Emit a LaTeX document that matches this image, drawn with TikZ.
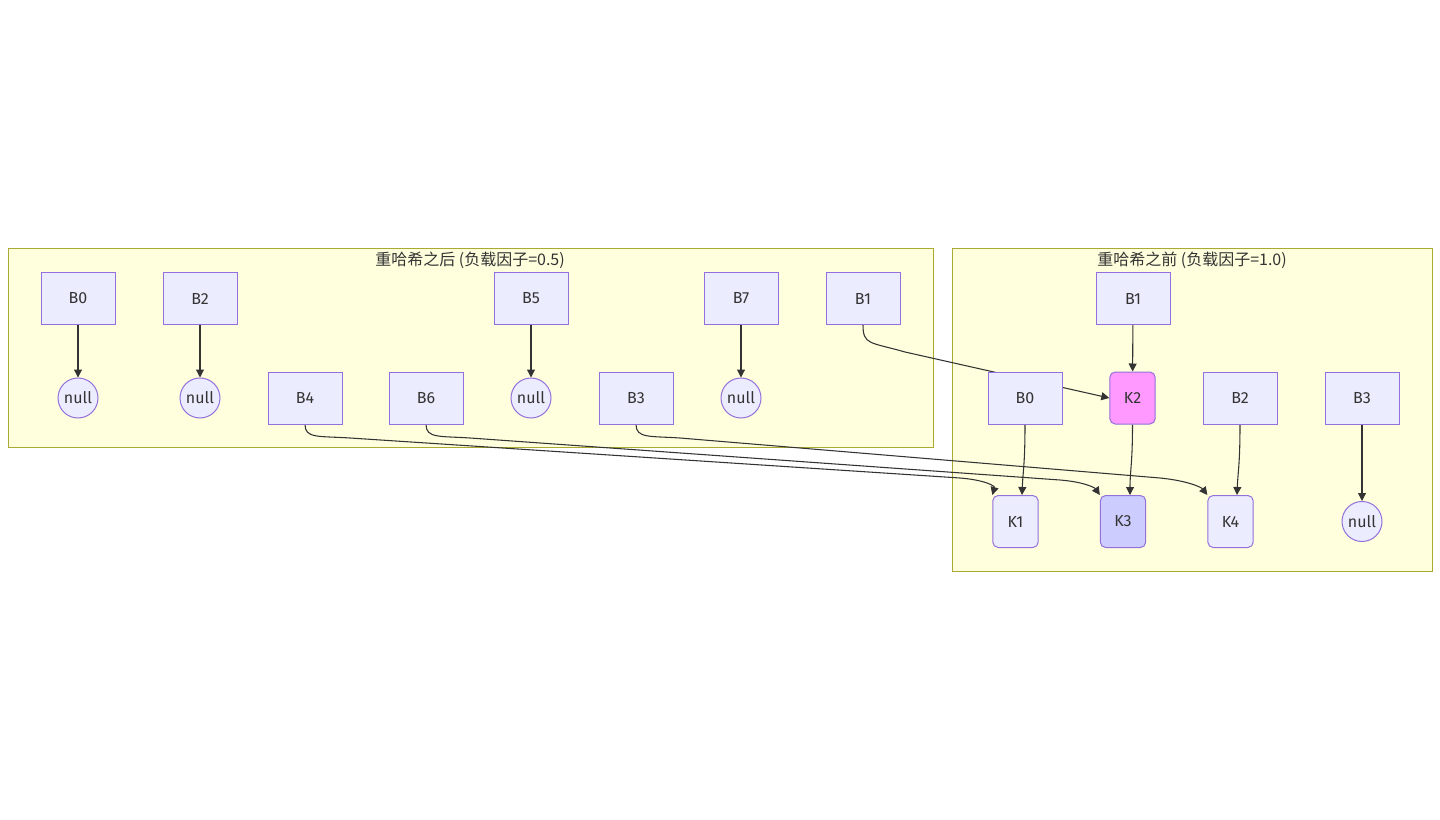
\documentclass[tikz,border=0pt]{standalone}
\usepackage{fontspec}
\setmainfont{Fira Sans}
\newfontfamily\cjk{Noto Sans CJK SC}
\usetikzlibrary{arrows.meta}
\definecolor{nodefill}{HTML}{ECECFF}
\definecolor{nodeline}{HTML}{9370DB}
\definecolor{clusterfill}{HTML}{FFFFDE}
\definecolor{clusterline}{HTML}{AAAA33}
\definecolor{edgecol}{HTML}{333333}
\definecolor{pinkfill}{HTML}{FF99FF}
\definecolor{bluefill}{HTML}{CCCCFF}
\pgfdeclarelayer{background}
\pgfdeclarelayer{edgelayer}
\pgfsetlayers{background,edgelayer,main}
\tikzset{
  bucket/.style={draw=nodeline, fill=nodefill, line width=0.75pt, minimum width=55.5pt, minimum height=39pt, inner sep=0pt, font=\fontsize{12}{14}\selectfont, text=edgecol},
  keybox/.style={draw=nodeline, fill=nodefill, line width=0.75pt, rounded corners=4pt, minimum width=34pt, minimum height=39pt, inner sep=0pt, font=\fontsize{12}{14}\selectfont, text=edgecol},
  nullnode/.style={draw=nodeline, fill=nodefill, line width=0.75pt, circle, minimum size=30pt, inner sep=0pt, font=\fontsize{12}{14}\selectfont, text=edgecol},
  cluster/.style={draw=clusterline, fill=clusterfill, line width=0.75pt},
  ctitle/.style={font=\cjk\fontsize{12}{14}\selectfont, text=edgecol},
  edge/.style={draw=edgecol, line width=0.8pt, -{Triangle[length=6pt,width=6pt]}}
}
\begin{document}
\begin{tikzpicture}[x=0.75pt,y=-0.75pt]
\useasboundingbox (0,0) rectangle (1440,820);
\begin{pgfonlayer}{background}
\fill[white] (0,0) rectangle (1440,820);
\draw[cluster] (8,249) rectangle (933,447);
\draw[cluster] (952,249) rectangle (1432,571);
\end{pgfonlayer}
\node[ctitle] (tA) at (470,260) {重哈希之后 (负载因子=0.5)};
\node[ctitle] (tB) at (1192,260) {重哈希之前 (负载因子=1.0)};
% after rehash
\node[bucket] (aB0) at (78,298.5) {B0};
\node[bucket] (aB2) at (200,298.5) {B2};
\node[bucket] (aB5) at (531,298.5) {B5};
\node[bucket] (aB7) at (741,298.5) {B7};
\node[bucket] (aB1) at (863,298.5) {B1};
\node[nullnode] (an0) at (78,398) {null};
\node[nullnode] (an2) at (200,398) {null};
\node[bucket] (aB4) at (305,398) {B4};
\node[bucket] (aB6) at (426,398) {B6};
\node[nullnode] (an5) at (531,398) {null};
\node[bucket] (aB3) at (636,398) {B3};
\node[nullnode] (an7) at (741,398) {null};
% before rehash
\node[bucket] (bB1) at (1133,298.5) {B1};
\node[bucket] (bB0) at (1025,398) {B0};
\node[keybox, fill=pinkfill] (K2) at (1132.5,398) {K2};
\node[bucket] (bB2) at (1240,398) {B2};
\node[bucket] (bB3) at (1362,398) {B3};
\node[keybox] (K1) at (1015.5,521.5) {K1};
\node[keybox, fill=bluefill] (K3) at (1123,521.5) {K3};
\node[keybox] (K4) at (1230.5,521.5) {K4};
\node[nullnode] (bn3) at (1362,521.5) {null};
\begin{pgfonlayer}{edgelayer}
\draw[edge] (aB0) -- (an0);
\draw[edge] (aB2) -- (an2);
\draw[edge] (aB5) -- (an5);
\draw[edge] (aB7) -- (an7);
\draw[edge] (aB1.south) .. controls +(0,20) and (870,342) .. (905,352) -- (K2.west);
\draw[edge] (bB1) -- (K2);
\draw[edge] (bB0.south) .. controls +(0,40) and (1023,470) .. (K1.north -| 1022,0);
\draw[edge] (K2.south) .. controls +(0,40) and (1130,470) .. (K3.north -| 1130,0);
\draw[edge] (bB2.south) .. controls +(0,40) and (1238,470) .. (K4.north -| 1237,0);
\draw[edge] (bB3) -- (bn3);
\draw[edge] (aB4.south) .. controls +(0,14) and (318,436) .. (350,438) -- (960,478) .. controls (985,480) and (995,486) .. (K1.north west);
\draw[edge] (aB6.south) .. controls +(0,14) and (440,436) .. (470,438) -- (1060,480) .. controls (1085,482) and (1095,488) .. (K3.north west);
\draw[edge] (aB3.south) .. controls +(0,14) and (650,436) .. (680,438) -- (1160,478) .. controls (1190,481) and (1202,488) .. (K4.north west);
\end{pgfonlayer}
\end{tikzpicture}
\end{document}
